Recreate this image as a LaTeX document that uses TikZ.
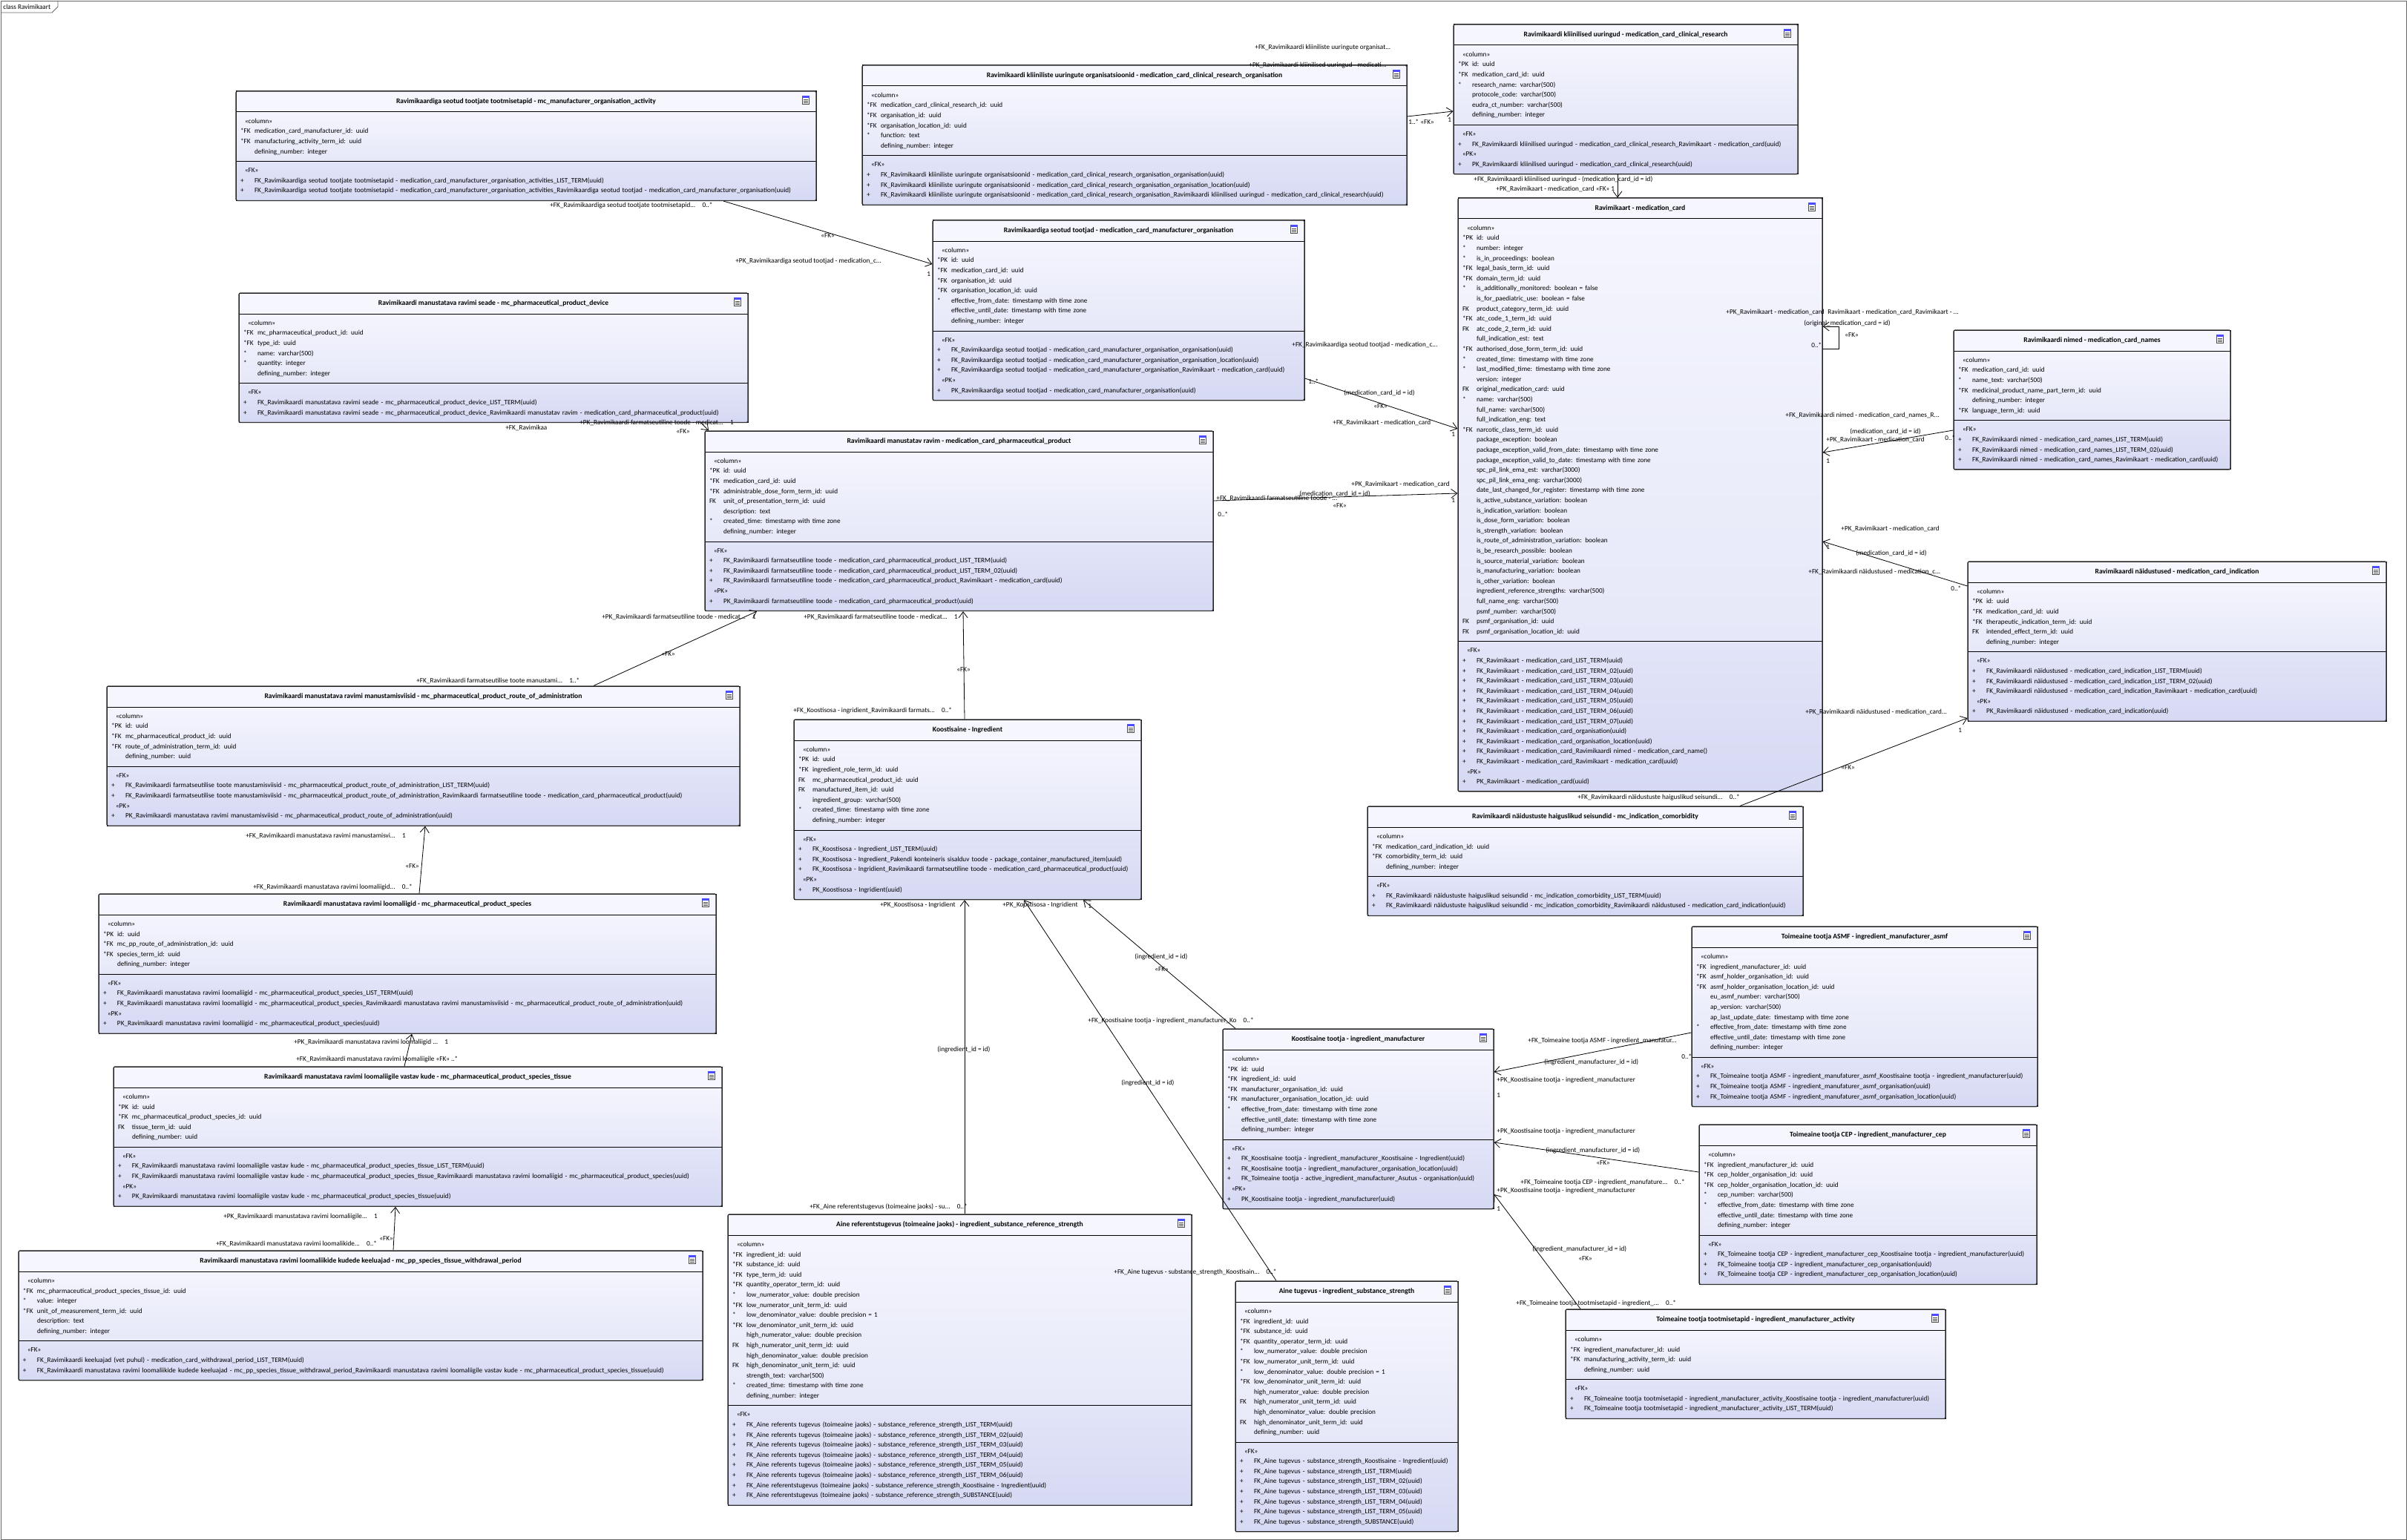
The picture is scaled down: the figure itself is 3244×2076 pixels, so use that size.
\documentclass[tikz,border=0pt]{standalone}
\usepackage{fontspec}
\setmainfont{Carlito}
\usetikzlibrary{arrows.meta,fit,calc}
\definecolor{hdrc}{HTML}{F6F7FE}
\definecolor{cola}{HTML}{F4F5FD}
\definecolor{colb}{HTML}{E6E8F9}
\definecolor{fka}{HTML}{E2E4F8}
\definecolor{fkb}{HTML}{D6D9F3}
\newcommand\txtf{\fontsize{4.6}{6.8}\selectfont}
\newcommand\rw[2]{\makebox[9.5pt][l]{#1}#2}
\newcommand\pl[1]{\rw{+}{#1}}
\newcommand\st[1]{\hspace*{3pt}«#1»}
\tikzset{
 hdr/.style={draw=black,line width=0.5pt,fill=hdrc,minimum height=14pt,inner sep=0pt,outer sep=0pt,font=\fontsize{4.8}{6}\selectfont\bfseries},
 colsec/.style={draw=black,line width=0.5pt,top color=cola,bottom color=colb,align=left,inner xsep=3pt,inner ysep=4.5pt,outer sep=0pt,font=\txtf},
 fksec/.style={draw=black,line width=0.5pt,top color=fka,bottom color=fkb,align=left,inner xsep=3pt,inner ysep=4.5pt,outer sep=0pt,font=\txtf},
 outer/.style={draw=black!80,line width=0.6pt,inner sep=0pt,rounded corners=0.8pt},
 fk/.style={draw=black,line width=0.4pt,-{Straight Barb[length=4pt,width=6pt]}},
 lbl/.style={font=\txtf,inner sep=0.5pt,anchor=west},
}
\newcommand\cbox[7]{%
 \pgfmathsetlengthmacro\bw{#4*0.5pt}%
 \pgfmathsetlengthmacro\tw{#4*0.5pt-6pt}%
 \node[hdr,minimum width=\bw,anchor=north west] (#1t) at (#2,#3) {#5};
 \node[colsec,text width=\tw,anchor=north west] (#1c) at (#1t.south west) {#6};
 \node[fksec,text width=\tw,anchor=north west] (#1f) at (#1c.south west) {#7};
 \node[outer,fit=(#1t)(#1c)(#1f)] (#1) {};
 \node[draw=black!70,fill=white,minimum width=4.5pt,minimum height=5.5pt,inner sep=0pt,line width=0.3pt] (#1i) at ([xshift=-7pt,yshift=-6pt]#1t.north east) {};
 \fill[blue!70] (#1i.north west) rectangle ([yshift=-1.2pt]#1i.north east);
 \draw[black!70,line width=0.25pt] ([xshift=0.8pt,yshift=-2.4pt]#1i.north west) -- ([xshift=-0.8pt,yshift=-2.4pt]#1i.north east)
   ([xshift=0.8pt,yshift=-3.4pt]#1i.north west) -- ([xshift=-0.8pt,yshift=-3.4pt]#1i.north east)
   ([xshift=0.8pt,yshift=-4.4pt]#1i.north west) -- ([xshift=-0.8pt,yshift=-4.4pt]#1i.north east);
}
\begin{document}
\catcode`\_=12
\begin{tikzpicture}[x=0.5pt,y=-0.5pt]
\useasboundingbox (0,0) rectangle (3244,2076);
\draw[black!60,line width=0.4pt] (1,1) rectangle (3243,2075);
\draw[black!60,line width=0.4pt] (1,17) -- (70,17) -- (78,9) -- (78,1);
\node[lbl] (frm) at (3,9) {class Ravimikaart};

% ---------- boxes ----------
\cbox{moa}{318}{123}{782}{Ravimikaardiga seotud tootjate tootmisetapid - mc_manufacturer_organisation_activity}
{\st{column}\\\rw{*FK}{medication_card_manufacturer_id: uuid}\\\rw{*FK}{manufacturing_activity_term_id: uuid}\\\rw{}{defining_number: integer}}
{\st{FK}\\\pl{FK_Ravimikaardiga seotud tootjate tootmisetapid - medication_card_manufacturer_organisation_activities_LIST_TERM(uuid)}\\\pl{FK_Ravimikaardiga seotud tootjate tootmisetapid - medication_card_manufacturer_organisation_activities_Ravimikaardiga seotud tootjad - medication_card_manufacturer_organisation(uuid)}}

\cbox{dev}{322}{395}{686}{Ravimikaardi manustatava ravimi seade - mc_pharmaceutical_product_device}
{\st{column}\\\rw{*FK}{mc_pharmaceutical_product_id: uuid}\\\rw{*FK}{type_id: uuid}\\\rw{*}{name: varchar(500)}\\\rw{*}{quantity: integer}\\\rw{}{defining_number: integer}}
{\st{FK}\\\pl{FK_Ravimikaardi manustatava ravimi seade - mc_pharmaceutical_product_device_LIST_TERM(uuid)}\\\pl{FK_Ravimikaardi manustatava ravimi seade - mc_pharmaceutical_product_device_Ravimikaardi manustatav ravim - medication_card_pharmaceutical_product(uuid)}}

\cbox{cro}{1162}{88}{734}{Ravimikaardi kliiniliste uuringute organisatsioonid - medication_card_clinical_research_organisation}
{\st{column}\\\rw{*FK}{medication_card_clinical_research_id: uuid}\\\rw{*FK}{organisation_id: uuid}\\\rw{*FK}{organisation_location_id: uuid}\\\rw{*}{function: text}\\\rw{}{defining_number: integer}}
{\st{FK}\\\pl{FK_Ravimikaardi kliiniliste uuringute organisatsioonid - medication_card_clinical_research_organisation_organisation(uuid)}\\\pl{FK_Ravimikaardi kliiniliste uuringute organisatsioonid - medication_card_clinical_research_organisation_organisation_location(uuid)}\\\pl{FK_Ravimikaardi kliiniliste uuringute organisatsioonid - medication_card_clinical_research_organisation_Ravimikaardi kliinilised uuringud - medication_card_clinical_research(uuid)}}

\cbox{cr}{1959}{33}{464}{Ravimikaardi kliinilised uuringud - medication_card_clinical_research}
{\st{column}\\\rw{*PK}{id: uuid}\\\rw{*FK}{medication_card_id: uuid}\\\rw{*}{research_name: varchar(500)}\\\rw{}{protocole_code: varchar(500)}\\\rw{}{eudra_ct_number: varchar(500)}\\\rw{}{defining_number: integer}}
{\st{FK}\\\pl{FK_Ravimikaardi kliinilised uuringud - medication_card_clinical_research_Ravimikaart - medication_card(uuid)}\\\st{PK}\\\pl{PK_Ravimikaardi kliinilised uuringud - medication_card_clinical_research(uuid)}}

\cbox{mo}{1257}{297}{501}{Ravimikaardiga seotud tootjad - medication_card_manufacturer_organisation}
{\st{column}\\\rw{*PK}{id: uuid}\\\rw{*FK}{medication_card_id: uuid}\\\rw{*FK}{organisation_id: uuid}\\\rw{*FK}{organisation_location_id: uuid}\\\rw{*}{effective_from_date: timestamp with time zone}\\\rw{}{effective_until_date: timestamp with time zone}\\\rw{}{defining_number: integer}}
{\st{FK}\\\pl{FK_Ravimikaardiga seotud tootjad - medication_card_manufacturer_organisation_organisation(uuid)}\\\pl{FK_Ravimikaardiga seotud tootjad - medication_card_manufacturer_organisation_organisation_location(uuid)}\\\pl{FK_Ravimikaardiga seotud tootjad - medication_card_manufacturer_organisation_Ravimikaart - medication_card(uuid)}\\\st{PK}\\\pl{PK_Ravimikaardiga seotud tootjad - medication_card_manufacturer_organisation(uuid)}}

\cbox{mc}{1965}{267}{491}{Ravimikaart - medication_card}
{\st{column}\\\rw{*PK}{id: uuid}\\\rw{*}{number: integer}\\\rw{*}{is_in_proceedings: boolean}\\\rw{*FK}{legal_basis_term_id: uuid}\\\rw{*FK}{domain_term_id: uuid}\\\rw{*}{is_additionally_monitored: boolean = false}\\\rw{}{is_for_paediatric_use: boolean = false}\\\rw{FK}{product_category_term_id: uuid}\\\rw{*FK}{atc_code_1_term_id: uuid}\\\rw{FK}{atc_code_2_term_id: uuid}\\\rw{}{full_indication_est: text}\\\rw{*FK}{authorised_dose_form_term_id: uuid}\\\rw{*}{created_time: timestamp with time zone}\\\rw{*}{last_modified_time: timestamp with time zone}\\\rw{}{version: integer}\\\rw{FK}{original_medication_card: uuid}\\\rw{*}{name: varchar(500)}\\\rw{}{full_name: varchar(500)}\\\rw{}{full_indication_eng: text}\\\rw{*FK}{narcotic_class_term_id: uuid}\\\rw{}{package_exception: boolean}\\\rw{}{package_exception_valid_from_date: timestamp with time zone}\\\rw{}{package_exception_valid_to_date: timestamp with time zone}\\\rw{}{spc_pil_link_ema_est: varchar(3000)}\\\rw{}{spc_pil_link_ema_eng: varchar(3000)}\\\rw{}{date_last_changed_for_register: timestamp with time zone}\\\rw{}{is_active_substance_variation: boolean}\\\rw{}{is_indication_variation: boolean}\\\rw{}{is_dose_form_variation: boolean}\\\rw{}{is_strength_variation: boolean}\\\rw{}{is_route_of_administration_variation: boolean}\\\rw{}{is_be_research_possible: boolean}\\\rw{}{is_source_material_variation: boolean}\\\rw{}{is_manufacturing_variation: boolean}\\\rw{}{is_other_variation: boolean}\\\rw{}{ingredient_reference_strengths: varchar(500)}\\\rw{}{full_name_eng: varchar(500)}\\\rw{}{psmf_number: varchar(500)}\\\rw{FK}{psmf_organisation_id: uuid}\\\rw{FK}{psmf_organisation_location_id: uuid}}
{\st{FK}\\\pl{FK_Ravimikaart - medication_card_LIST_TERM(uuid)}\\\pl{FK_Ravimikaart - medication_card_LIST_TERM_02(uuid)}\\\pl{FK_Ravimikaart - medication_card_LIST_TERM_03(uuid)}\\\pl{FK_Ravimikaart - medication_card_LIST_TERM_04(uuid)}\\\pl{FK_Ravimikaart - medication_card_LIST_TERM_05(uuid)}\\\pl{FK_Ravimikaart - medication_card_LIST_TERM_06(uuid)}\\\pl{FK_Ravimikaart - medication_card_LIST_TERM_07(uuid)}\\\pl{FK_Ravimikaart - medication_card_organisation(uuid)}\\\pl{FK_Ravimikaart - medication_card_organisation_location(uuid)}\\\pl{FK_Ravimikaart - medication_card_Ravimikaardi nimed - medication_card_name()}\\\pl{FK_Ravimikaart - medication_card_Ravimikaart - medication_card(uuid)}\\\st{PK}\\\pl{PK_Ravimikaart - medication_card(uuid)}}

\cbox{nm}{2633}{445}{373}{Ravimikaardi nimed - medication_card_names}
{\st{column}\\\rw{*FK}{medication_card_id: uuid}\\\rw{*}{name_text: varchar(500)}\\\rw{*FK}{medicinal_product_name_part_term_id: uuid}\\\rw{}{defining_number: integer}\\\rw{*FK}{language_term_id: uuid}}
{\st{FK}\\\pl{FK_Ravimikaardi nimed - medication_card_names_LIST_TERM(uuid)}\\\pl{FK_Ravimikaardi nimed - medication_card_names_LIST_TERM_02(uuid)}\\\pl{FK_Ravimikaardi nimed - medication_card_names_Ravimikaart - medication_card(uuid)}}

\cbox{ind}{2652}{757}{564}{Ravimikaardi näidustused - medication_card_indication}
{\st{column}\\\rw{*PK}{id: uuid}\\\rw{*FK}{medication_card_id: uuid}\\\rw{*FK}{therapeutic_indication_term_id: uuid}\\\rw{FK}{intended_effect_term_id: uuid}\\\rw{}{defining_number: integer}}
{\st{FK}\\\pl{FK_Ravimikaardi näidustused - medication_card_indication_LIST_TERM(uuid)}\\\pl{FK_Ravimikaardi näidustused - medication_card_indication_LIST_TERM_02(uuid)}\\\pl{FK_Ravimikaardi näidustused - medication_card_indication_Ravimikaart - medication_card(uuid)}\\\st{PK}\\\pl{PK_Ravimikaardi näidustused - medication_card_indication(uuid)}}

\cbox{pp}{950}{581}{685}{Ravimikaardi manustatav ravim - medication_card_pharmaceutical_product}
{\st{column}\\\rw{*PK}{id: uuid}\\\rw{*FK}{medication_card_id: uuid}\\\rw{*FK}{administrable_dose_form_term_id: uuid}\\\rw{FK}{unit_of_presentation_term_id: uuid}\\\rw{}{description: text}\\\rw{*}{created_time: timestamp with time zone}\\\rw{}{defining_number: integer}}
{\st{FK}\\\pl{FK_Ravimikaardi farmatseutiline toode - medication_card_pharmaceutical_product_LIST_TERM(uuid)}\\\pl{FK_Ravimikaardi farmatseutiline toode - medication_card_pharmaceutical_product_LIST_TERM_02(uuid)}\\\pl{FK_Ravimikaardi farmatseutiline toode - medication_card_pharmaceutical_product_Ravimikaart - medication_card(uuid)}\\\st{PK}\\\pl{PK_Ravimikaardi farmatseutiline toode - medication_card_pharmaceutical_product(uuid)}}

\cbox{route}{144}{925}{853}{Ravimikaardi manustatava ravimi manustamisviisid - mc_pharmaceutical_product_route_of_administration}
{\st{column}\\\rw{*PK}{id: uuid}\\\rw{*FK}{mc_pharmaceutical_product_id: uuid}\\\rw{*FK}{route_of_administration_term_id: uuid}\\\rw{}{defining_number: uuid}}
{\st{FK}\\\pl{FK_Ravimikaardi farmatseutilise toote manustamisviisid - mc_pharmaceutical_product_route_of_administration_LIST_TERM(uuid)}\\\pl{FK_Ravimikaardi farmatseutilise toote manustamisviisid - mc_pharmaceutical_product_route_of_administration_Ravimikaardi farmatseutiline toode - medication_card_pharmaceutical_product(uuid)}\\\st{PK}\\\pl{PK_Ravimikaardi manustatava ravimi manustamisviisid - mc_pharmaceutical_product_route_of_administration(uuid)}}

\cbox{ing}{1070}{970}{468}{Koostisaine - Ingredient}
{\st{column}\\\rw{*PK}{id: uuid}\\\rw{*FK}{ingredient_role_term_id: uuid}\\\rw{FK}{mc_pharmaceutical_product_id: uuid}\\\rw{FK}{manufactured_item_id: uuid}\\\rw{}{ingredient_group: varchar(500)}\\\rw{*}{created_time: timestamp with time zone}\\\rw{}{defining_number: integer}}
{\st{FK}\\\pl{FK_Koostisosa - Ingredient_LIST_TERM(uuid)}\\\pl{FK_Koostisosa - Ingredient_Pakendi konteineris sisalduv toode - package_container_manufactured_item(uuid)}\\\pl{FK_Koostisosa - Ingridient_Ravimikaardi farmatseutiline toode - medication_card_pharmaceutical_product(uuid)}\\\st{PK}\\\pl{PK_Koostisosa - Ingridient(uuid)}}

\cbox{com}{1843}{1087}{587}{Ravimikaardi näidustuste haiguslikud seisundid - mc_indication_comorbidity}
{\st{column}\\\rw{*FK}{medication_card_indication_id: uuid}\\\rw{*FK}{comorbidity_term_id: uuid}\\\rw{}{defining_number: integer}}
{\st{FK}\\\pl{FK_Ravimikaardi näidustuste haiguslikud seisundid - mc_indication_comorbidity_LIST_TERM(uuid)}\\\pl{FK_Ravimikaardi näidustuste haiguslikud seisundid - mc_indication_comorbidity_Ravimikaardi näidustused - medication_card_indication(uuid)}}

\cbox{sp}{133}{1205}{832}{Ravimikaardi manustatava ravimi loomaliigid - mc_pharmaceutical_product_species}
{\st{column}\\\rw{*PK}{id: uuid}\\\rw{*FK}{mc_pp_route_of_administration_id: uuid}\\\rw{*FK}{species_term_id: uuid}\\\rw{}{defining_number: integer}}
{\st{FK}\\\pl{FK_Ravimikaardi manustatava ravimi loomaliigid - mc_pharmaceutical_product_species_LIST_TERM(uuid)}\\\pl{FK_Ravimikaardi manustatava ravimi loomaliigid - mc_pharmaceutical_product_species_Ravimikaardi manustatava ravimi manustamisviisid - mc_pharmaceutical_product_route_of_administration(uuid)}\\\st{PK}\\\pl{PK_Ravimikaardi manustatava ravimi loomaliigid - mc_pharmaceutical_product_species(uuid)}}

\cbox{tis}{153}{1438}{820}{Ravimikaardi manustatava ravimi loomaliigile vastav kude - mc_pharmaceutical_product_species_tissue}
{\st{column}\\\rw{*PK}{id: uuid}\\\rw{*FK}{mc_pharmaceutical_product_species_id: uuid}\\\rw{FK}{tissue_term_id: uuid}\\\rw{}{defining_number: uuid}}
{\st{FK}\\\pl{FK_Ravimikaardi manustatava ravimi loomaliigile vastav kude - mc_pharmaceutical_product_species_tissue_LIST_TERM(uuid)}\\\pl{FK_Ravimikaardi manustatava ravimi loomaliigile vastav kude - mc_pharmaceutical_product_species_tissue_Ravimikaardi manustatava ravimi loomaliigid - mc_pharmaceutical_product_species(uuid)}\\\st{PK}\\\pl{PK_Ravimikaardi manustatava ravimi loomaliigile vastav kude - mc_pharmaceutical_product_species_tissue(uuid)}}

\cbox{wd}{25}{1686}{922}{Ravimikaardi manustatava ravimi loomaliikide kudede keeluajad - mc_pp_species_tissue_withdrawal_period}
{\st{column}\\\rw{*FK}{mc_pharmaceutical_product_species_tissue_id: uuid}\\\rw{*}{value: integer}\\\rw{*FK}{unit_of_measurement_term_id: uuid}\\\rw{}{description: text}\\\rw{}{defining_number: integer}}
{\st{FK}\\\pl{FK_Ravimikaardi keeluajad (vet puhul) - medication_card_withdrawal_period_LIST_TERM(uuid)}\\\pl{FK_Ravimikaardi manustatava ravimi loomaliikide kudede keeluajad - mc_pp_species_tissue_withdrawal_period_Ravimikaardi manustatava ravimi loomaliigile vastav kude - mc_pharmaceutical_product_species_tissue(uuid)}}

\cbox{rs}{981}{1637}{625}{Aine referentstugevus (toimeaine jaoks) - ingredient_substance_reference_strength}
{\st{column}\\\rw{*FK}{ingredient_id: uuid}\\\rw{*FK}{substance_id: uuid}\\\rw{*FK}{type_term_id: uuid}\\\rw{*FK}{quantity_operator_term_id: uuid}\\\rw{*}{low_numerator_value: double precision}\\\rw{*FK}{low_numerator_unit_term_id: uuid}\\\rw{*}{low_denominator_value: double precision = 1}\\\rw{*FK}{low_denominator_unit_term_id: uuid}\\\rw{}{high_numerator_value: double precision}\\\rw{FK}{high_numerator_unit_term_id: uuid}\\\rw{}{high_denominator_value: double precision}\\\rw{FK}{high_denominator_unit_term_id: uuid}\\\rw{}{strength_text: varchar(500)}\\\rw{*}{created_time: timestamp with time zone}\\\rw{}{defining_number: integer}}
{\st{FK}\\\pl{FK_Aine referents tugevus (toimeaine jaoks) - substance_reference_strength_LIST_TERM(uuid)}\\\pl{FK_Aine referents tugevus (toimeaine jaoks) - substance_reference_strength_LIST_TERM_02(uuid)}\\\pl{FK_Aine referents tugevus (toimeaine jaoks) - substance_reference_strength_LIST_TERM_03(uuid)}\\\pl{FK_Aine referents tugevus (toimeaine jaoks) - substance_reference_strength_LIST_TERM_04(uuid)}\\\pl{FK_Aine referents tugevus (toimeaine jaoks) - substance_reference_strength_LIST_TERM_05(uuid)}\\\pl{FK_Aine referents tugevus (toimeaine jaoks) - substance_reference_strength_LIST_TERM_06(uuid)}\\\pl{FK_Aine referentstugevus (toimeaine jaoks) - substance_reference_strength_Koostisaine - Ingredient(uuid)}\\\pl{FK_Aine referentstugevus (toimeaine jaoks) - substance_reference_strength_SUBSTANCE(uuid)}}

\cbox{im}{1648}{1387}{365}{Koostisaine tootja - ingredient_manufacturer}
{\st{column}\\\rw{*PK}{id: uuid}\\\rw{*FK}{ingredient_id: uuid}\\\rw{*FK}{manufacturer_organisation_id: uuid}\\\rw{*FK}{manufacturer_organisation_location_id: uuid}\\\rw{*}{effective_from_date: timestamp with time zone}\\\rw{}{effective_until_date: timestamp with time zone}\\\rw{}{defining_number: integer}}
{\st{FK}\\\pl{FK_Koostisaine tootja - ingredient_manufacturer_Koostisaine - Ingredient(uuid)}\\\pl{FK_Koostisaine tootja - ingredient_manufacturer_organisation_location(uuid)}\\\pl{FK_Toimeaine tootja - active_ingredient_manufacturer_Asutus - organisation(uuid)}\\\st{PK}\\\pl{PK_Koostisaine tootja - ingredient_manufacturer(uuid)}}

\cbox{asmf}{2280}{1249}{466}{Toimeaine tootja ASMF - ingredient_manufacturer_asmf}
{\st{column}\\\rw{*FK}{ingredient_manufacturer_id: uuid}\\\rw{*FK}{asmf_holder_organisation_id: uuid}\\\rw{*FK}{asmf_holder_organisation_location_id: uuid}\\\rw{}{eu_asmf_number: varchar(500)}\\\rw{}{ap_version: varchar(500)}\\\rw{}{ap_last_update_date: timestamp with time zone}\\\rw{*}{effective_from_date: timestamp with time zone}\\\rw{}{effective_until_date: timestamp with time zone}\\\rw{}{defining_number: integer}}
{\st{FK}\\\pl{FK_Toimeaine tootja ASMF - ingredient_manufaturer_asmf_Koostisaine tootja - ingredient_manufacturer(uuid)}\\\pl{FK_Toimeaine tootja ASMF - ingredient_manufaturer_asmf_organisation(uuid)}\\\pl{FK_Toimeaine tootja ASMF - ingredient_manufaturer_asmf_organisation_location(uuid)}}

\cbox{cep}{2290}{1516}{455}{Toimeaine tootja CEP - ingredient_manufacturer_cep}
{\st{column}\\\rw{*FK}{ingredient_manufacturer_id: uuid}\\\rw{*FK}{cep_holder_organisation_id: uuid}\\\rw{*FK}{cep_holder_organisation_location_id: uuid}\\\rw{*}{cep_number: varchar(500)}\\\rw{*}{effective_from_date: timestamp with time zone}\\\rw{}{effective_until_date: timestamp with time zone}\\\rw{}{defining_number: integer}}
{\st{FK}\\\pl{FK_Toimeaine tootja CEP - ingredient_manufacturer_cep_Koostisaine tootja - ingredient_manufacturer(uuid)}\\\pl{FK_Toimeaine tootja CEP - ingredient_manufacturer_cep_organisation(uuid)}\\\pl{FK_Toimeaine tootja CEP - ingredient_manufacturer_cep_organisation_location(uuid)}}

\cbox{ima}{2110}{1765}{512}{Toimeaine tootja tootmisetapid - ingredient_manufacturer_activity}
{\st{column}\\\rw{*FK}{ingredient_manufacturer_id: uuid}\\\rw{*FK}{manufacturing_activity_term_id: uuid}\\\rw{}{defining_number: uuid}}
{\st{FK}\\\pl{FK_Toimeaine tootja tootmisetapid - ingredient_manufacturer_activity_Koostisaine tootja - ingredient_manufacturer(uuid)}\\\pl{FK_Toimeaine tootja tootmisetapid - ingredient_manufacturer_activity_LIST_TERM(uuid)}}

\cbox{ss}{1665}{1727}{300}{Aine tugevus - ingredient_substance_strength}
{\st{column}\\\rw{*FK}{ingredient_id: uuid}\\\rw{*FK}{substance_id: uuid}\\\rw{*FK}{quantity_operator_term_id: uuid}\\\rw{*}{low_numerator_value: double precision}\\\rw{*FK}{low_numerator_unit_term_id: uuid}\\\rw{*}{low_denominator_value: double precision = 1}\\\rw{*FK}{low_denominator_unit_term_id: uuid}\\\rw{}{high_numerator_value: double precision}\\\rw{FK}{high_numerator_unit_term_id: uuid}\\\rw{}{high_denominator_value: double precision}\\\rw{FK}{high_denominator_unit_term_id: uuid}\\\rw{}{defining_number: uuid}}
{\st{FK}\\\pl{FK_Aine tugevus - substance_strength_Koostisaine - Ingredient(uuid)}\\\pl{FK_Aine tugevus - substance_strength_LIST_TERM(uuid)}\\\pl{FK_Aine tugevus - substance_strength_LIST_TERM_02(uuid)}\\\pl{FK_Aine tugevus - substance_strength_LIST_TERM_03(uuid)}\\\pl{FK_Aine tugevus - substance_strength_LIST_TERM_04(uuid)}\\\pl{FK_Aine tugevus - substance_strength_LIST_TERM_05(uuid)}\\\pl{FK_Aine tugevus - substance_strength_SUBSTANCE(uuid)}}

% ---------- connectors ----------
\draw[fk] (moa.south -| 975,0) -- (mo.west |- 0,356);
\draw[fk] (cro.east |- 0,157) -- (cr.west |- 0,150);
\draw[fk] (cr.south -| 2180,0) -- (mc.north -| 2180,0);
\draw[fk] (mo.east |- 0,510) -- (mc.west |- 0,578);
\draw[fk] (mc.east |- 0,470) -- (2478,470) -- (2478,440) -- (mc.east |- 0,440);
\draw[fk] (nm.west |- 0,580) -- (mc.east |- 0,610);
\draw[fk] (ind.west |- 0,790) -- (mc.east |- 0,730);
\draw[fk] (com.north -| 2345,0) -- (ind.west |- 0,968);
\draw[fk] (pp.east |- 0,675) -- (mc.west |- 0,665);
\draw[fk] (dev.south -| 945,0) -- (pp.north -| 955,0);
\draw[fk] (route.north -| 800,0) -- (pp.south -| 1020,0);
\draw[fk] (ing.north -| 1300,0) -- (pp.south -| 1298,0);
\draw[fk] (sp.north -| 565,0) -- (route.south -| 573,0);
\draw[fk] (tis.north -| 545,0) -- (sp.south -| 555,0);
\draw[fk] (wd.north -| 530,0) -- (tis.south -| 533,0);
\draw[fk] (rs.north -| 1300,0) -- (ing.south -| 1300,0);
\draw[fk] (ss.north -| 1720,0) -- (ing.south -| 1380,0);
\draw[fk] (im.north -| 1665,0) -- (ing.south -| 1460,0);
\draw[fk] (asmf.west |- 0,1392) -- (im.east |- 0,1445);
\draw[fk] (cep.west |- 0,1580) -- (im.east |- 0,1540);
\draw[fk] (ima.north -| 2130,0) -- (im.east |- 0,1610);

% ---------- labels ----------
\node[lbl] (l1) at (740,277) {+FK_Ravimikaardiga seotud tootjate tootmisetapid...\quad 0..*};
\node[lbl] (l2) at (1105,318) {«FK»};
\node[lbl] (l3) at (990,352) {+PK_Ravimikaardiga seotud tootjad - medication_c...};
\node[lbl] (l4) at (1248,370) {1};
\node[lbl] (l5) at (1690,64) {+FK_Ravimikaardi kliiniliste uuringute organisat...};
\node[lbl] (l6) at (1682,88) {+PK_Ravimikaardi kliinilised uuringud - medicati...};
\node[lbl] (l7) at (1897,164) {1..*\ «FK»};
\node[lbl] (l8) at (1950,162) {1};
\node[lbl] (l9) at (1985,242) {+FK_Ravimikaardi kliinilised uuringud - (medication_card_id = id)};
\node[lbl] (l10) at (2015,255) {+PK_Ravimikaart - medication_card «FK» 1};
\node[lbl] (l11) at (1740,465) {+FK_Ravimikaardiga seotud tootjad - medication_c...};
\node[lbl] (l12) at (1762,514) {1..*};
\node[lbl] (l13) at (1810,530) {(medication_card_id = id)};
\node[lbl] (l14) at (1850,548) {«FK»};
\node[lbl] (l15) at (1795,570) {+FK_Ravimikaart - medication_card};
\node[lbl] (l16) at (1955,586) {1};
\node[lbl] (l17) at (2325,421) {+PK_Ravimikaart - medication_card};
\node[lbl] (l18) at (2462,421) {Ravimikaart - medication_card_Ravimikaart - ...};
\node[lbl] (l19) at (2430,436) {(original_medication_card = id)};
\node[lbl] (l20) at (2485,452) {«FK»};
\node[lbl] (l21) at (2440,465) {0..*};
\node[lbl] (l22) at (2405,560) {+FK_Ravimikaardi nimed - medication_card_names_R...};
\node[lbl] (l23) at (2492,582) {(medication_card_id = id)};
\node[lbl] (l24) at (2620,590) {0..*};
\node[lbl] (l25) at (2460,593) {+PK_Ravimikaart - medication_card};
\node[lbl] (l26) at (2460,622) {1};
\node[lbl] (l27) at (2480,713) {+PK_Ravimikaart - medication_card};
\node[lbl] (l28) at (2500,746) {(medication_card_id = id)};
\node[lbl] (l29) at (2436,771) {+FK_Ravimikaardi näidustused - medication_c...};
\node[lbl] (l30) at (2628,793) {0..*};
\node[lbl] (l31) at (2460,738) {1};
\node[lbl] (l32) at (2125,1075) {+FK_Ravimikaardi näidustuste haiguslikud seisundi...\quad 0..*};
\node[lbl] (l33) at (2480,1035) {«FK»};
\node[lbl] (l34) at (2432,960) {+PK_Ravimikaardi näidustused - medication_card...};
\node[lbl] (l35) at (2638,985) {1};
\node[lbl] (l36) at (1638,672) {+FK_Ravimikaardi farmatseutiline toode - ...};
\node[lbl] (l37) at (1750,666) {(medication_card_id = id)};
\node[lbl] (l38) at (1820,653) {+PK_Ravimikaart - medication_card};
\node[lbl] (l39) at (1640,693) {0..*};
\node[lbl] (l40) at (1795,682) {«FK»};
\node[lbl] (l41) at (1955,675) {1};
\node[lbl] (l42) at (680,577) {+FK_Ravimikaa};
\node[lbl] (l43) at (780,570) {+PK_Ravimikaardi farmatseutiline toode - medicat...\quad 1};
\node[lbl] (l44) at (910,582) {«FK»};
\node[lbl] (l45) at (810,832) {+PK_Ravimikaardi farmatseutiline toode - medicat...\quad 1};
\node[lbl] (l46) at (890,882) {«FK»};
\node[lbl] (l47) at (560,918) {+FK_Ravimikaardi farmatseutilise toote manustami...\quad 1..*};
\node[lbl] (l48) at (1082,832) {+PK_Ravimikaardi farmatseutiline toode - medicat...\quad 1};
\node[lbl] (l49) at (1288,903) {«FK»};
\node[lbl] (l50) at (1068,958) {+FK_Koostisosa - ingridient_Ravimikaardi farmats...\quad 0..*};
\node[lbl] (l51) at (330,1127) {+FK_Ravimikaardi manustatava ravimi manustamisvi...\quad 1};
\node[lbl] (l52) at (545,1168) {«FK»};
\node[lbl] (l53) at (340,1196) {+FK_Ravimikaardi manustatava ravimi loomaliigid...\quad 0..*};
\node[lbl] (l54) at (395,1405) {+PK_Ravimikaardi manustatava ravimi loomaliigid ...\quad 1};
\node[lbl] (l55) at (398,1428) {+FK_Ravimikaardi manustatava ravimi loomaliigile «FK» ..*};
\node[lbl] (l56) at (300,1640) {+PK_Ravimikaardi manustatava ravimi loomaliigile...\quad 1};
\node[lbl] (l57) at (510,1670) {«FK»};
\node[lbl] (l58) at (290,1677) {+FK_Ravimikaardi manustatava ravimi loomalikide...\quad 0..*};
\node[lbl] (l59) at (1185,1220) {+PK_Koostisosa - Ingridient};
\node[lbl] (l60) at (1350,1220) {+PK_Koostisosa - Ingridient};
\node[lbl] (l61) at (1465,1222) {1};
\node[lbl] (l62) at (1262,1415) {(ingredient_id = id)};
\node[lbl] (l63) at (1090,1627) {+FK_Aine referentstugevus (toimeaine jaoks) - su...\quad 0..*};
\node[lbl] (l64) at (1510,1460) {(ingredient_id = id)};
\node[lbl] (l65) at (1500,1715) {+FK_Aine tugevus - substance_strength_Koostisain...\quad 0..*};
\node[lbl] (l66) at (1528,1290) {(ingredient_id = id)};
\node[lbl] (l67) at (1555,1307) {«FK»};
\node[lbl] (l68) at (1465,1376) {+FK_Koostisaine tootja - ingredient_manufacturer_Ko\quad 0..*};
\node[lbl] (l69) at (2058,1403) {+FK_Toimeaine tootja ASMF - ingredient_manufatur...};
\node[lbl] (l70) at (2080,1432) {(ingredient_manufacturer_id = id)};
\node[lbl] (l71) at (2265,1424) {0..*};
\node[lbl] (l72) at (2016,1456) {+PK_Koostisaine tootja - ingredient_manufacturer};
\node[lbl] (l73) at (2016,1477) {1};
\node[lbl] (l74) at (2016,1525) {+PK_Koostisaine tootja - ingredient_manufacturer};
\node[lbl] (l75) at (2082,1551) {(ingredient_manufacturer_id = id)};
\node[lbl] (l76) at (2150,1568) {«FK»};
\node[lbl] (l77) at (2048,1594) {+FK_Toimeaine tootja CEP - ingredient_manufature...\quad 0..*};
\node[lbl] (l78) at (2016,1605) {+PK_Koostisaine tootja - ingredient_manufacturer};
\node[lbl] (l79) at (2016,1630) {1};
\node[lbl] (l80) at (2064,1684) {(ingredient_manufacturer_id = id)};
\node[lbl] (l81) at (2126,1697) {«FK»};
\node[lbl] (l82) at (2042,1757) {+FK_Toimeaine tootja tootmisetapid - ingredient_...\quad 0..*};
\end{tikzpicture}
\end{document}
